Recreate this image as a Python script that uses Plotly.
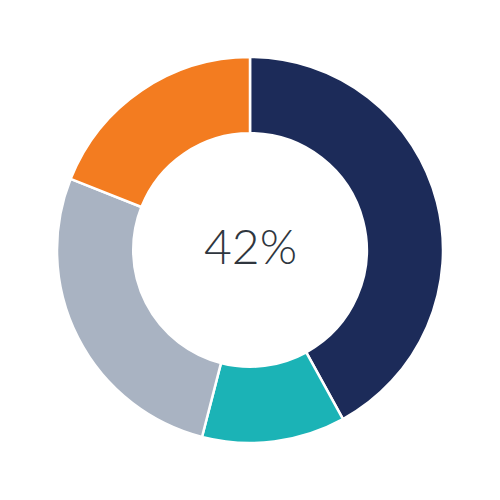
import plotly.graph_objects as go

# Dados
categorias = ['A', 'B', 'C', 'D']
valores = [42, 12, 27, 19]
cores = ['#1c2b59', '#1bb3b6', '#a9b3c2', '#f37c20']
rotulo_centro = '42%'

fig = go.Figure()

fig.add_trace(
    go.Pie(
        labels=categorias,
        values=valores,
        hole=0.605,
        sort=False,
        direction='clockwise',
        rotation=0,
        marker=dict(colors=cores, line=dict(color='white', width=2.5)),
        textinfo='none',
        hoverinfo='label+percent',
        showlegend=False
    )
)

# Texto central
fig.add_annotation(
    text=rotulo_centro,
    x=0.5, y=0.5, xref='paper', yref='paper',
    yshift=5,
    showarrow=False,
    font=dict(family='Lato', size=48, color='#2f363e', weight=300)
)

# a página tem 8px de margem no body, por isso as margens assimétricas
fig.update_layout(
    width=500,
    height=500,
    margin=dict(l=49, r=65, t=49, b=65),
    paper_bgcolor='white',
    plot_bgcolor='white'
)

fig.write_html('out.html')
